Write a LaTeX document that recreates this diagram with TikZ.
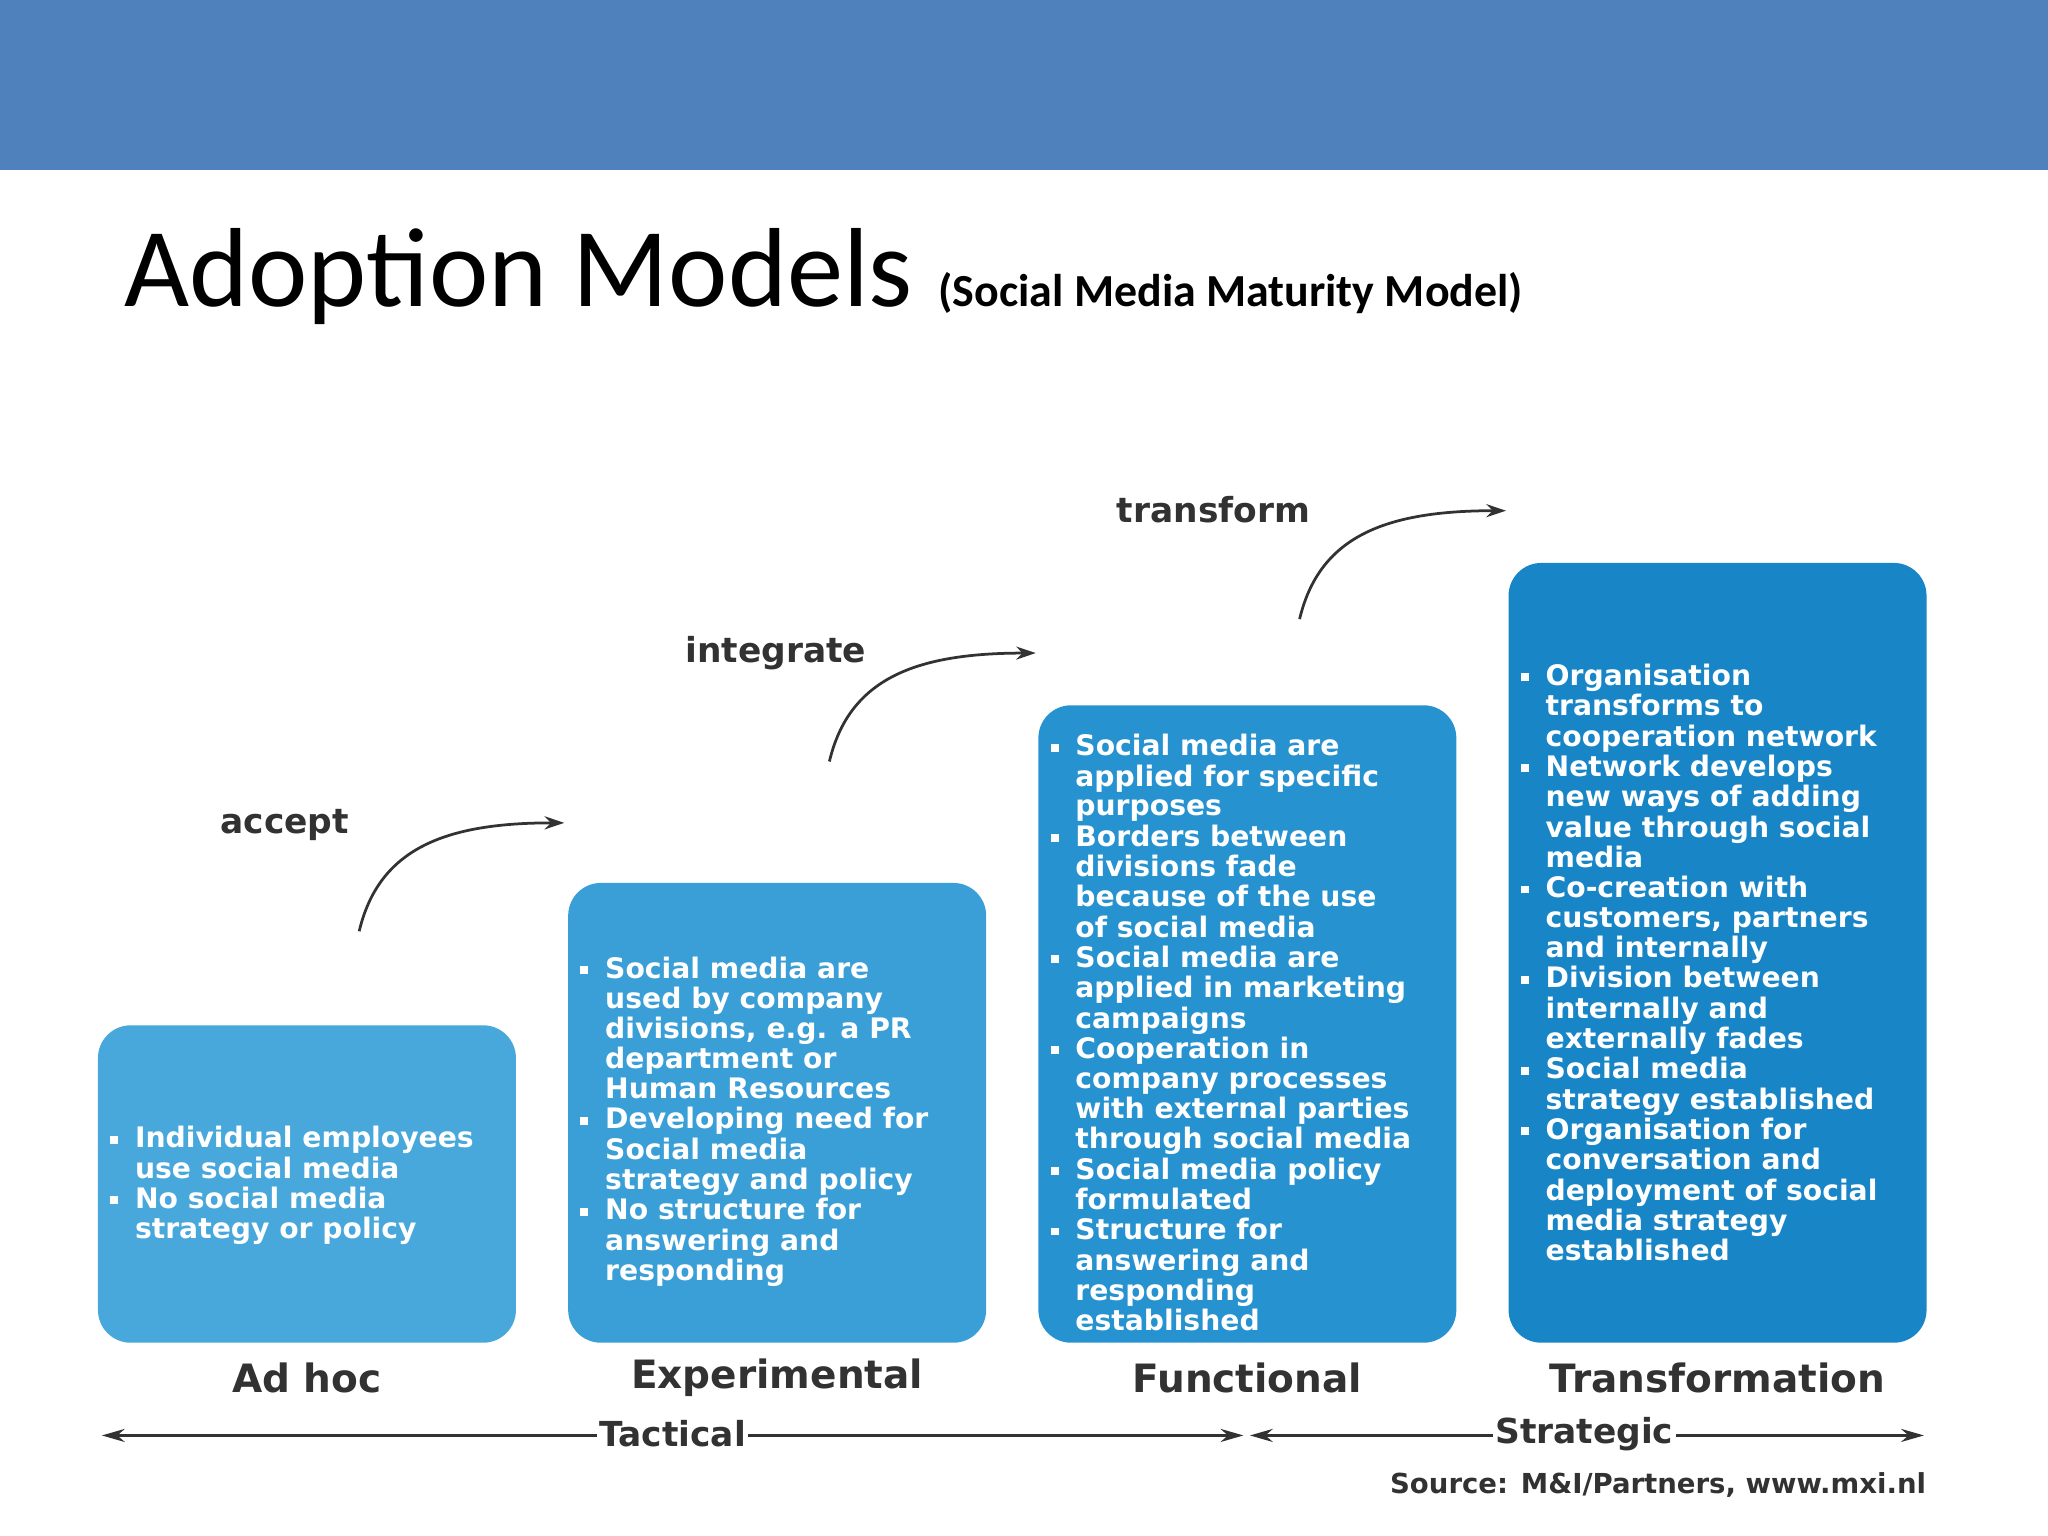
\documentclass[tikz,border=0pt]{standalone}
\usepackage{fontspec}
\setmainfont{Carlito}
\newfontfamily\vfont{DejaVu Sans}
\usetikzlibrary{arrows.meta}
\definecolor{hdr}{RGB}{79,129,189}
\definecolor{cA}{RGB}{72,168,219}
\definecolor{cB}{RGB}{58,159,214}
\definecolor{cC}{RGB}{38,146,207}
\definecolor{cD}{RGB}{24,133,198}
\definecolor{lbl}{RGB}{50,50,50}
\newcommand{\bx}{\raisebox{0.15em}{\rule{0.28em}{0.28em}}}
\tikzset{
 stage/.style={rounded corners=0.5cm,draw=none},
 btext/.style={anchor=north west,text=white,font=\vfont\bfseries\fontsize{12.3}{12.9}\selectfont,inner sep=0pt,align=left},
 slabel/.style={font=\vfont\bfseries\fontsize{17}{19}\selectfont,text=lbl},
 verb/.style={font=\vfont\bfseries\fontsize{15}{17}\selectfont,text=lbl},
 carr/.style={-{Stealth[length=0.3cm,width=0.2cm]},line width=1.2pt,draw=lbl},
 harr/.style={{Stealth[length=0.35cm,width=0.2cm]}-{Stealth[length=0.35cm,width=0.2cm]},line width=1.2pt,draw=lbl}
}
\begin{document}
\begin{tikzpicture}[x=0.02cm,y=-0.02cm]
\useasboundingbox (0,0) rectangle (1568,1176);
\fill[hdr] (0,0) rectangle (1568,130);
\node[anchor=base west,inner sep=0pt] (title) at (95,235) {\fontsize{49}{58}\selectfont Adoption Models \fontsize{20}{24}\selectfont\bfseries (Social Media Maturity Model)};
% boxes
\fill[stage,cA] (75,785) rectangle (395,1028);
\fill[stage,cB] (435,676) rectangle (755,1028);
\fill[stage,cC] (795,540) rectangle (1115,1028);
\fill[stage,cD] (1155,431) rectangle (1475,1028);
\node[btext] (t1) at (84,862) {\begin{tabular}{@{}l@{\hspace{0.6em}}l@{}}
\bx & Individual employees\\ & use social media\\
\bx & No social media\\ & strategy or policy\end{tabular}};
\node[btext] (t2) at (444,732) {\begin{tabular}{@{}l@{\hspace{0.6em}}l@{}}
\bx & Social media are\\ & used by company\\ & divisions, e.g. a PR\\ & department or\\ & Human Resources\\
\bx & Developing need for\\ & Social media\\ & strategy and policy\\
\bx & No structure for\\ & answering and\\ & responding\end{tabular}};
\node[btext] (t3) at (804,562) {\begin{tabular}{@{}l@{\hspace{0.6em}}l@{}}
\bx & Social media are\\ & applied for specific\\ & purposes\\
\bx & Borders between\\ & divisions fade\\ & because of the use\\ & of social media\\
\bx & Social media are\\ & applied in marketing\\ & campaigns\\
\bx & Cooperation in\\ & company processes\\ & with external parties\\ & through social media\\
\bx & Social media policy\\ & formulated\\
\bx & Structure for\\ & answering and\\ & responding\\ & established\end{tabular}};
\node[btext] (t4) at (1164,508) {\begin{tabular}{@{}l@{\hspace{0.6em}}l@{}}
\bx & Organisation\\ & transforms to\\ & cooperation network\\
\bx & Network develops\\ & new ways of adding\\ & value through social\\ & media\\
\bx & Co-creation with\\ & customers, partners\\ & and internally\\
\bx & Division between\\ & internally and\\ & externally fades\\
\bx & Social media\\ & strategy established\\
\bx & Organisation for\\ & conversation and\\ & deployment of social\\ & media strategy\\ & established\end{tabular}};
% stage labels
\node[slabel] (l1) at (235,1055) {Ad hoc};
\node[slabel] (l2) at (595,1055) {Experimental};
\node[slabel] (l3) at (955,1055) {Functional};
\node[slabel] (l4) at (1315,1055) {Transformation};
% curved arrows
\node[verb] (v1) at (218,632) {accept};
\node[verb] (v2) at (594,500) {integrate};
\node[verb] (v3) at (929,390) {transform};
\coordinate (a1s) at (275,713); \coordinate (a1e) at (432,630);
\coordinate (a2s) at (635,583); \coordinate (a2e) at (793,500);
\coordinate (a3s) at (995,474); \coordinate (a3e) at (1153,391);
\draw[carr] (a1s) .. controls (290,650) and (340,630) .. (a1e);
\draw[carr] (a2s) .. controls (650,520) and (700,500) .. (a2e);
\draw[carr] (a3s) .. controls (1010,411) and (1060,391) .. (a3e);
% scale arrows
\coordinate (p1) at (78,1099); \coordinate (p2) at (952,1099);
\coordinate (p3) at (957,1099); \coordinate (p4) at (1473,1099);
\draw[harr] (p1) -- (p2);
\draw[harr] (p3) -- (p4);
\node[verb,fill=white,inner sep=1pt] (tac) at (515,1098) {Tactical};
\node[verb,fill=white,inner sep=1pt] (str) at (1213,1098) {Strategic};
\node[anchor=east,font=\vfont\bfseries\fontsize{12}{14}\selectfont,text=lbl,inner sep=0pt] (src) at (1475,1137) {Source: M\&I/Partners, www.mxi.nl};
\end{tikzpicture}
\end{document}
